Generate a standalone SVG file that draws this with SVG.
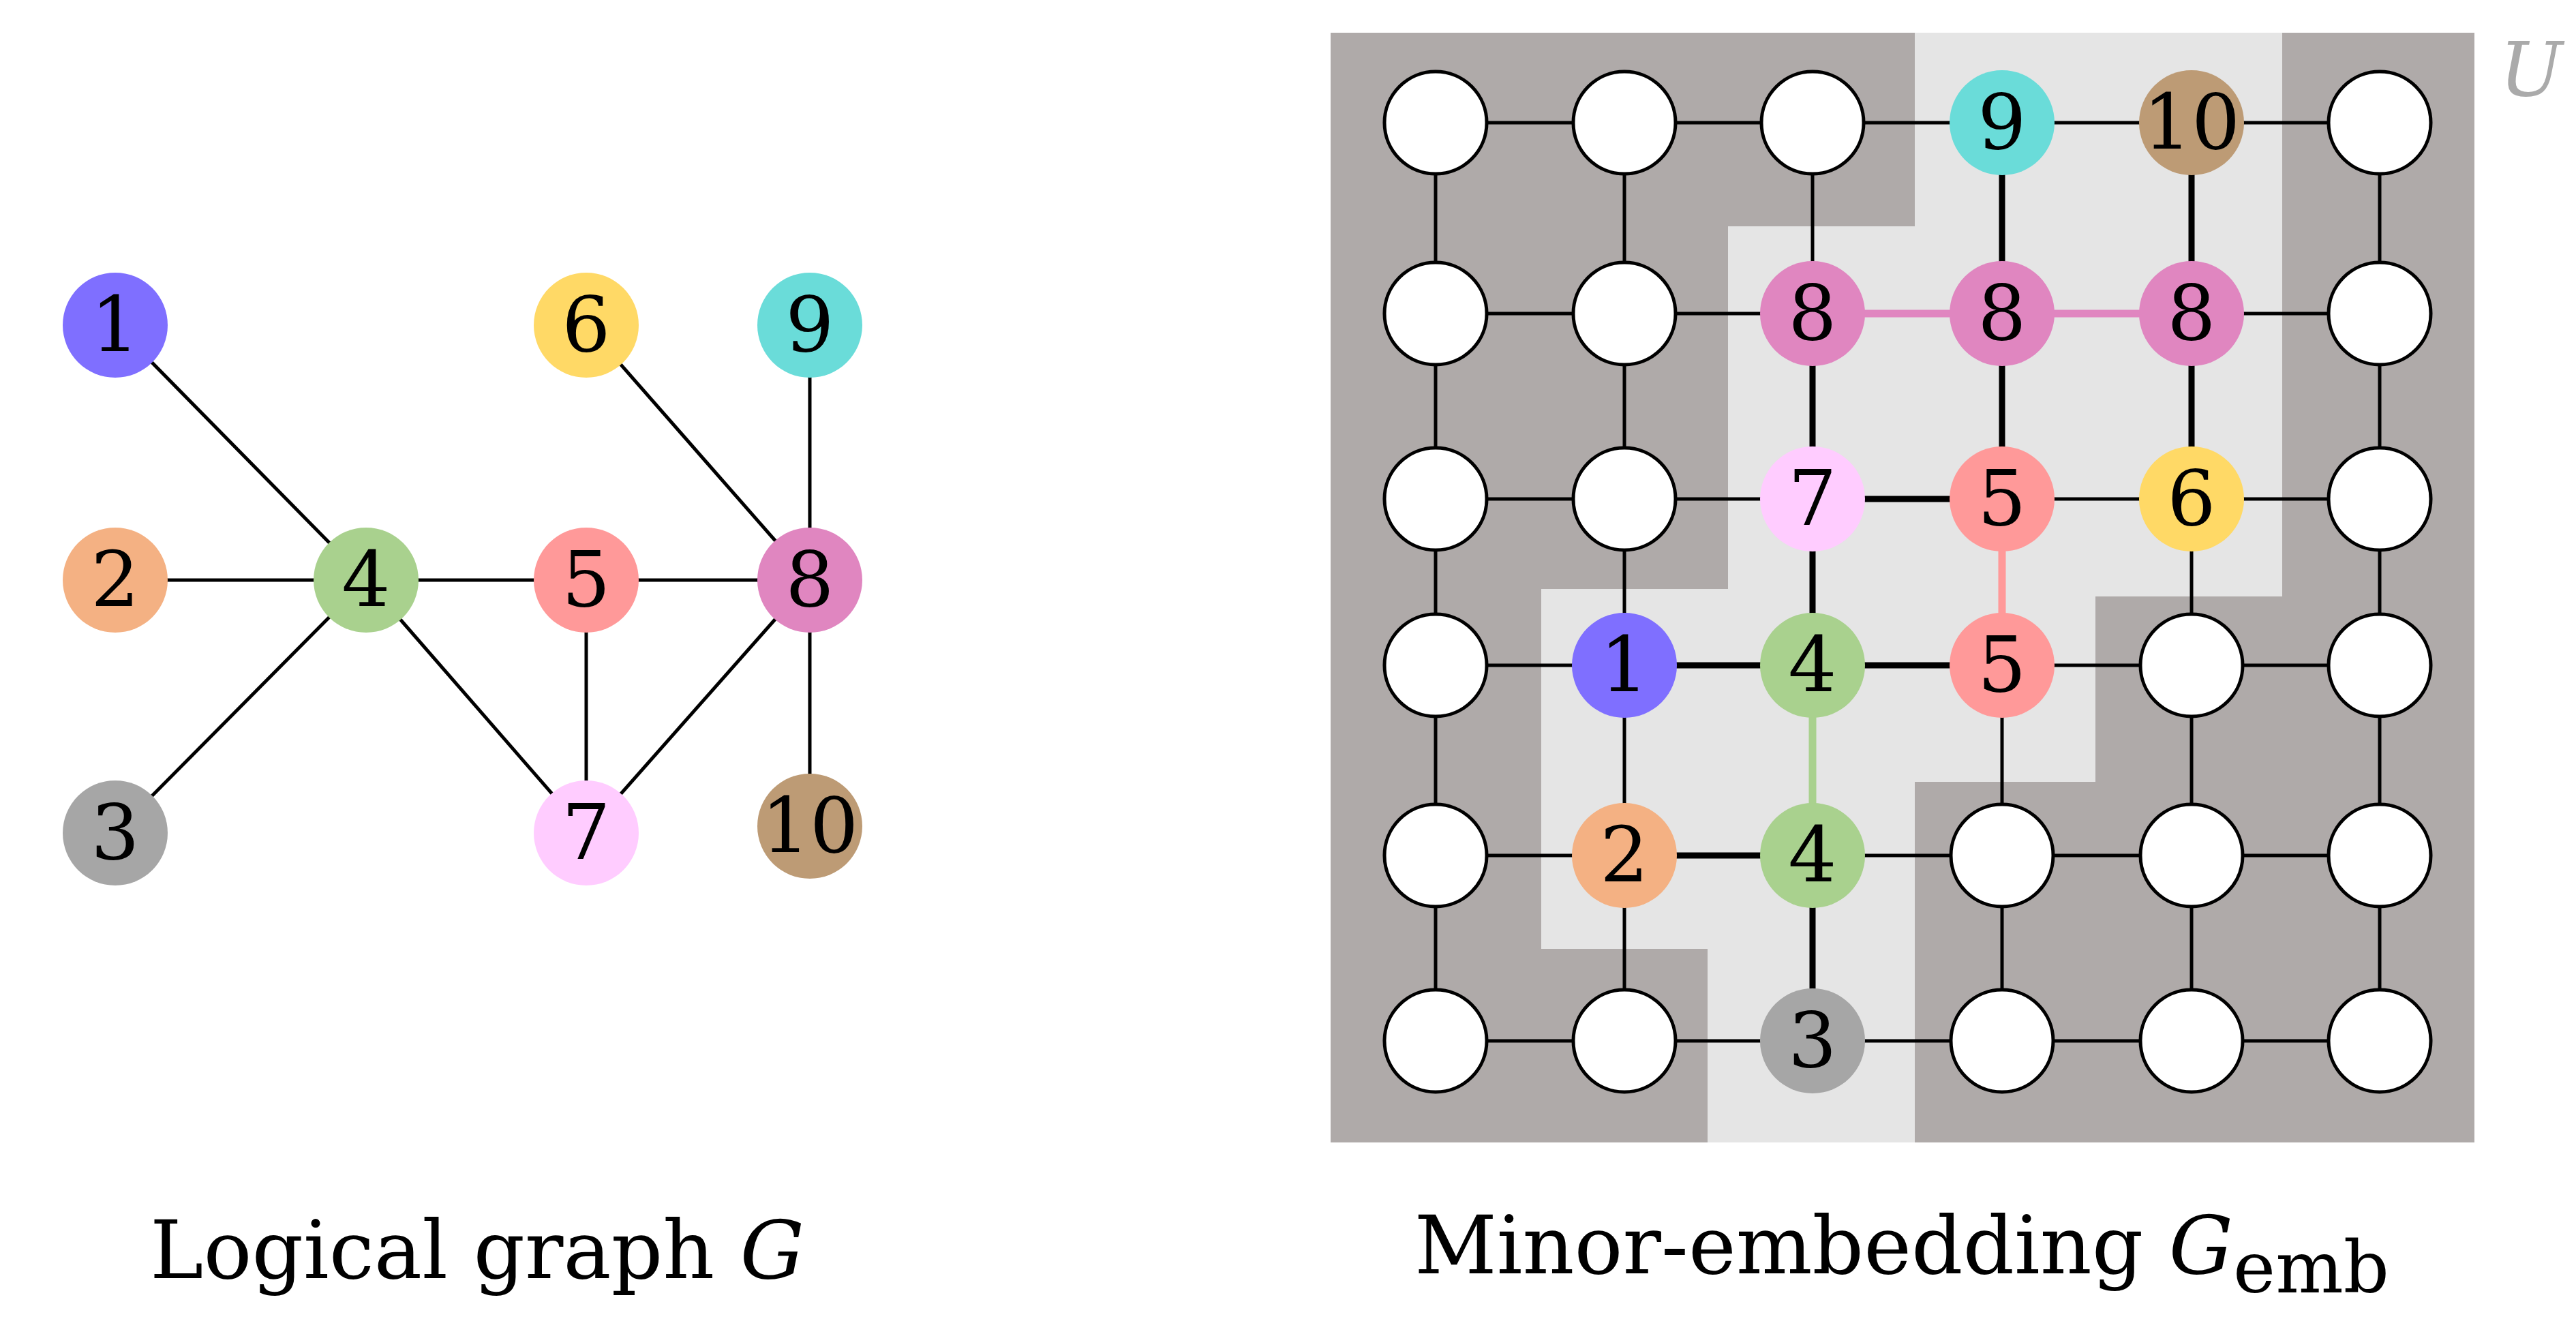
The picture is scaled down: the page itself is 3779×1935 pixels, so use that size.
<svg xmlns="http://www.w3.org/2000/svg" width="3779" height="1935" viewBox="0 0 3779 1935">
<style>
.e{stroke:#000;stroke-width:5;fill:none}
.t{stroke:#000;stroke-width:9;fill:none}
.w{fill:#fff;stroke:#000;stroke-width:5}
.n text,.l{font-family:"DejaVu Serif","Liberation Serif",serif;font-size:112px;text-anchor:middle;fill:#000}
.cap{font-family:"DejaVu Serif","Liberation Serif",serif;font-size:118px;fill:#000}
</style>
<rect width="3779" height="1935" fill="#fff"/>
<!-- Left graph -->
<g id="left-edges">
<line class="e" x1="169" y1="477" x2="537" y2="851"/>
<line class="e" x1="169" y1="851" x2="537" y2="851"/>
<line class="e" x1="169" y1="1222" x2="537" y2="851"/>
<line class="e" x1="537" y1="851" x2="860" y2="851"/>
<line class="e" x1="537" y1="851" x2="860" y2="1222"/>
<line class="e" x1="860" y1="851" x2="860" y2="1222"/>
<line class="e" x1="860" y1="851" x2="1188" y2="851"/>
<line class="e" x1="860" y1="477" x2="1188" y2="851"/>
<line class="e" x1="860" y1="1222" x2="1188" y2="851"/>
<line class="e" x1="1188" y1="477" x2="1188" y2="851"/>
<line class="e" x1="1188" y1="851" x2="1188" y2="1212"/>
</g>
<g id="L1" class="n"><circle cx="169" cy="477" r="77" fill="#7f6fff"/><text x="169" y="515">1</text></g>
<g id="L2" class="n"><circle cx="169" cy="851" r="77" fill="#f4b183"/><text x="169" y="889">2</text></g>
<g id="L3" class="n"><circle cx="169" cy="1222" r="77" fill="#a6a6a6"/><text x="169" y="1260">3</text></g>
<g id="L4" class="n"><circle cx="537" cy="851" r="77" fill="#a9d18e"/><text x="537" y="889">4</text></g>
<g id="L5" class="n"><circle cx="860" cy="851" r="77" fill="#ff9999"/><text x="860" y="889">5</text></g>
<g id="L6" class="n"><circle cx="860" cy="477" r="77" fill="#ffd966"/><text x="860" y="515">6</text></g>
<g id="L7" class="n"><circle cx="860" cy="1222" r="77" fill="#ffccff"/><text x="860" y="1260">7</text></g>
<g id="L8" class="n"><circle cx="1188" cy="851" r="77" fill="#e086c0"/><text x="1188" y="889">8</text></g>
<g id="L9" class="n"><circle cx="1188" cy="477" r="77" fill="#6adcd9"/><text x="1188" y="515">9</text></g>
<g id="L10" class="n"><circle cx="1188" cy="1212" r="77" fill="#bd9b75"/><text x="1188" y="1250">10</text></g>
<text class="cap" x="700" y="1875" text-anchor="middle">Logical graph <tspan font-style="italic">G</tspan></text>

<!-- Right background -->
<rect x="1952" y="48" width="1678" height="1628" fill="#afaaa9"/>
<polygon fill="#e5e5e5" points="2809,48 3348,48 3348,875 3074,875 3074,1147 2809,1147 2809,1676 2505,1676 2505,1392 2261,1392 2261,864 2535,864 2535,332 2809,332"/>
<text x="3713" y="140" font-family="DejaVu Serif, Liberation Serif, serif" font-style="italic" font-size="110" fill="#aaaaaa" text-anchor="middle">U</text>

<g id="connectors">
<!-- horizontal thin -->
<g class="e">
<line x1="2106" y1="180" x2="3491" y2="180"/>
<line x1="2106" y1="460" x2="2659" y2="460"/>
<line x1="3215" y1="460" x2="3491" y2="460"/>
<line x1="2106" y1="732" x2="2659" y2="732"/>
<line x1="2937" y1="732" x2="3491" y2="732"/>
<line x1="2106" y1="976" x2="2383" y2="976"/>
<line x1="2937" y1="976" x2="3491" y2="976"/>
<line x1="2106" y1="1255" x2="2383" y2="1255"/>
<line x1="2659" y1="1255" x2="3491" y2="1255"/>
<line x1="2106" y1="1527" x2="3491" y2="1527"/>
<!-- vertical thin -->
<line x1="2106" y1="180" x2="2106" y2="1527"/>
<line x1="2383" y1="180" x2="2383" y2="1527"/>
<line x1="2659" y1="180" x2="2659" y2="460"/>
<line x1="2937" y1="976" x2="2937" y2="1527"/>
<line x1="3215" y1="732" x2="3215" y2="1527"/>
<line x1="3491" y1="180" x2="3491" y2="1527"/>
</g>
<g class="t">
<line x1="2937" y1="180" x2="2937" y2="732"/>
<line x1="3215" y1="180" x2="3215" y2="732"/>
<line x1="2659" y1="460" x2="2659" y2="976"/>
<line x1="2659" y1="732" x2="2937" y2="732"/>
<line x1="2383" y1="976" x2="2937" y2="976"/>
<line x1="2383" y1="1255" x2="2659" y2="1255"/>
<line x1="2659" y1="1255" x2="2659" y2="1527"/>
</g>
<line x1="2659" y1="460" x2="3215" y2="460" stroke="#e086c0" stroke-width="11"/>
<line x1="2937" y1="732" x2="2937" y2="976" stroke="#ff9999" stroke-width="11"/>
<line x1="2659" y1="976" x2="2659" y2="1255" stroke="#a9d18e" stroke-width="11"/>
</g>

<!-- white nodes -->
<g id="w00"><circle class="w" cx="2106" cy="180" r="75"/></g>
<g id="w01"><circle class="w" cx="2383" cy="180" r="75"/></g>
<g id="w02"><circle class="w" cx="2659" cy="180" r="75"/></g>
<g id="w05"><circle class="w" cx="3491" cy="180" r="75"/></g>
<g id="w10"><circle class="w" cx="2106" cy="460" r="75"/></g>
<g id="w11"><circle class="w" cx="2383" cy="460" r="75"/></g>
<g id="w15"><circle class="w" cx="3491" cy="460" r="75"/></g>
<g id="w20"><circle class="w" cx="2106" cy="732" r="75"/></g>
<g id="w21"><circle class="w" cx="2383" cy="732" r="75"/></g>
<g id="w25"><circle class="w" cx="3491" cy="732" r="75"/></g>
<g id="w30"><circle class="w" cx="2106" cy="976" r="75"/></g>
<g id="w34"><circle class="w" cx="3215" cy="976" r="75"/></g>
<g id="w35"><circle class="w" cx="3491" cy="976" r="75"/></g>
<g id="w40"><circle class="w" cx="2106" cy="1255" r="75"/></g>
<g id="w43"><circle class="w" cx="2937" cy="1255" r="75"/></g>
<g id="w44"><circle class="w" cx="3215" cy="1255" r="75"/></g>
<g id="w45"><circle class="w" cx="3491" cy="1255" r="75"/></g>
<g id="w50"><circle class="w" cx="2106" cy="1527" r="75"/></g>
<g id="w51"><circle class="w" cx="2383" cy="1527" r="75"/></g>
<g id="w53"><circle class="w" cx="2937" cy="1527" r="75"/></g>
<g id="w54"><circle class="w" cx="3215" cy="1527" r="75"/></g>
<g id="w55"><circle class="w" cx="3491" cy="1527" r="75"/></g>
<!-- colored nodes -->
<g id="r9" class="n"><circle cx="2937" cy="180" r="77" fill="#6adcd9"/><text x="2937" y="218">9</text></g>
<g id="r10" class="n"><circle cx="3215" cy="180" r="77" fill="#bd9b75"/><text x="3215" y="218">10</text></g>
<g id="r8a" class="n"><circle cx="2659" cy="460" r="77" fill="#e086c0"/><text x="2659" y="498">8</text></g>
<g id="r8b" class="n"><circle cx="2937" cy="460" r="77" fill="#e086c0"/><text x="2937" y="498">8</text></g>
<g id="r8c" class="n"><circle cx="3215" cy="460" r="77" fill="#e086c0"/><text x="3215" y="498">8</text></g>
<g id="r7" class="n"><circle cx="2659" cy="732" r="77" fill="#ffccff"/><text x="2659" y="770">7</text></g>
<g id="r5a" class="n"><circle cx="2937" cy="732" r="77" fill="#ff9999"/><text x="2937" y="770">5</text></g>
<g id="r6" class="n"><circle cx="3215" cy="732" r="77" fill="#ffd966"/><text x="3215" y="770">6</text></g>
<g id="r1" class="n"><circle cx="2383" cy="976" r="77" fill="#7f6fff"/><text x="2383" y="1014">1</text></g>
<g id="r4a" class="n"><circle cx="2659" cy="976" r="77" fill="#a9d18e"/><text x="2659" y="1014">4</text></g>
<g id="r5b" class="n"><circle cx="2937" cy="976" r="77" fill="#ff9999"/><text x="2937" y="1014">5</text></g>
<g id="r2" class="n"><circle cx="2383" cy="1255" r="77" fill="#f4b183"/><text x="2383" y="1293">2</text></g>
<g id="r4b" class="n"><circle cx="2659" cy="1255" r="77" fill="#a9d18e"/><text x="2659" y="1293">4</text></g>
<g id="r3" class="n"><circle cx="2659" cy="1527" r="77" fill="#a6a6a6"/><text x="2659" y="1565">3</text></g>

<text class="cap" x="2075" y="1868">Minor-embedding <tspan font-style="italic">G</tspan><tspan font-size="105" dy="28">emb</tspan></text>
</svg>
